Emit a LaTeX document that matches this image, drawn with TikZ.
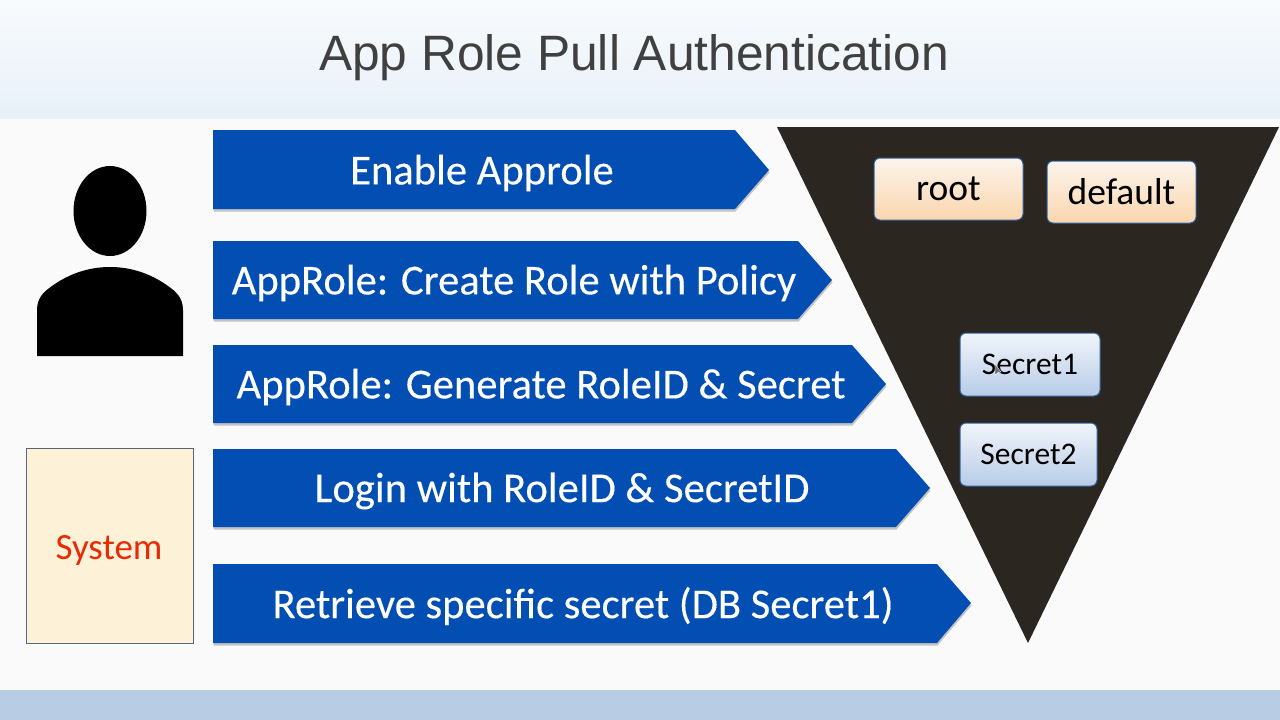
\documentclass[tikz,border=0pt]{standalone}
\usepackage{fontspec}
\setmainfont{Carlito}
\newfontfamily\titlefont{Liberation Sans}
\newfontfamily\stepfont[FakeBold=0.3]{Carlito}
\usepackage{tikz}
\usetikzlibrary{shadows, positioning, calc}
\definecolor{stepblue}{HTML}{034EB2}
\definecolor{funneldark}{HTML}{2B2720}
\definecolor{pagegray}{HTML}{FAFAFA}
\definecolor{headblue}{HTML}{E8F0F8}
\definecolor{headtop}{HTML}{F8FBFD}
\definecolor{footblue}{HTML}{B8CCE4}
\definecolor{sysfill}{HTML}{FDF1D8}
\definecolor{sysedge}{HTML}{55677A}
\definecolor{sysred}{HTML}{E62B06}
\definecolor{tagedge}{HTML}{2F5F9F}
\definecolor{policytop}{HTML}{FBF4EC}
\definecolor{policybot}{HTML}{FBD6AE}
\definecolor{secrettop}{HTML}{F1F5FA}
\definecolor{secretbot}{HTML}{B7CCE8}
\tikzset{
  stepshape/.style = {fill=stepblue, drop shadow={shadow xshift=0.5pt, shadow yshift=-2.5pt, opacity=0.22, fill=black}},
  steplabel/.style = {text=white, font=\stepfont\fontsize{42.6}{42.6}\selectfont, inner sep=0pt},
  tagbox/.style = {draw=tagedge, line width=1pt, rounded corners=6pt, inner sep=0pt},
  policybox/.style = {tagbox, top color=policytop, bottom color=policybot, font=\fontsize{37.5}{37.5}\selectfont},
  secretbox/.style = {tagbox, top color=secrettop, bottom color=secretbot, font=\fontsize{31.5}{31.5}\selectfont}
}
\begin{document}
\begin{tikzpicture}[x=1pt,y=-1pt]
\useasboundingbox (0,0) rectangle (1280,720);
% page
\fill[pagegray] (0,0) rectangle (1280,720);
\shade[top color=headtop, bottom color=headblue] (0,0) rectangle (1280,118);
\fill[footblue] (0,690) rectangle (1280,720);
\node[font=\titlefont\fontsize{49.7}{49.7}\selectfont, text=black!75, inner sep=0pt] (title) at (634,58) {App Role Pull Authentication};

% person
\fill[black] (110,211) ellipse [x radius=36.5, y radius=45];
\fill[black] (37,356) -- (37,310) .. controls (37,297) and (45,291) .. (52,286)
  .. controls (70,273) and (90,267) .. (110,267) .. controls (130,267) and (150,273) .. (168,286)
  .. controls (175,291) and (183,297) .. (183,310) -- (183,356) -- cycle;

% system
\node[draw=sysedge, fill=sysfill, line width=0.8pt, minimum width=167pt, minimum height=195pt, inner sep=0pt] (system) at (109.5,545.5) {};
\node[text=sysred, font=\fontsize{37}{37}\selectfont, inner sep=0pt] (systemtext) at (109,550) {System};

% funnel
\fill[funneldark] (777,127) -- (1279,127) -- (1028,643) -- cycle;

% steps
\fill[stepshape] (213,130) -- (735,130) -- (769,170) -- (735,209) -- (213,209) -- cycle;
\fill[stepshape] (213,241) -- (798,241) -- (832,280) -- (798,319) -- (213,319) -- cycle;
\fill[stepshape] (213,345) -- (852,345) -- (886,384) -- (852,423) -- (213,423) -- cycle;
\fill[stepshape] (213,449) -- (896,449) -- (930,488) -- (896,527) -- (213,527) -- cycle;
\fill[stepshape] (213,564) -- (937,564) -- (971,603) -- (937,643) -- (213,643) -- cycle;

\node[steplabel] (enable) at (482,173) {Enable Approle};
\node[steplabel] (create) at (514,283) {AppRole: Create Role with Policy};
\node[steplabel] (generate) at (541,387) {AppRole: Generate RoleID \& Secret};
\node[steplabel] (login) at (562,491) {Login with RoleID \& SecretID};
\node[steplabel] (retrieve) at (583,606) {Retrieve specific secret (DB Secret1)};

% tags
\node[policybox, minimum width=149pt, minimum height=62pt] (root) at (948.5,189) {root};
\node[policybox, minimum width=149pt, minimum height=62pt] (default) at (1121.5,192) {\raisebox{2pt}{default}};
\node[secretbox, minimum width=140pt, minimum height=63pt] (secret1) at (1030,364.5) {Secret1};
\node[secretbox, minimum width=137pt, minimum height=63pt] (secret2) at (1028.5,454.5) {Secret2};

% pointer
\fill[black!55, draw=white, line width=0.3pt] (995,364) -- (995,375) -- (998,372.5) -- (1001,372) -- cycle;
\end{tikzpicture}
\end{document}
